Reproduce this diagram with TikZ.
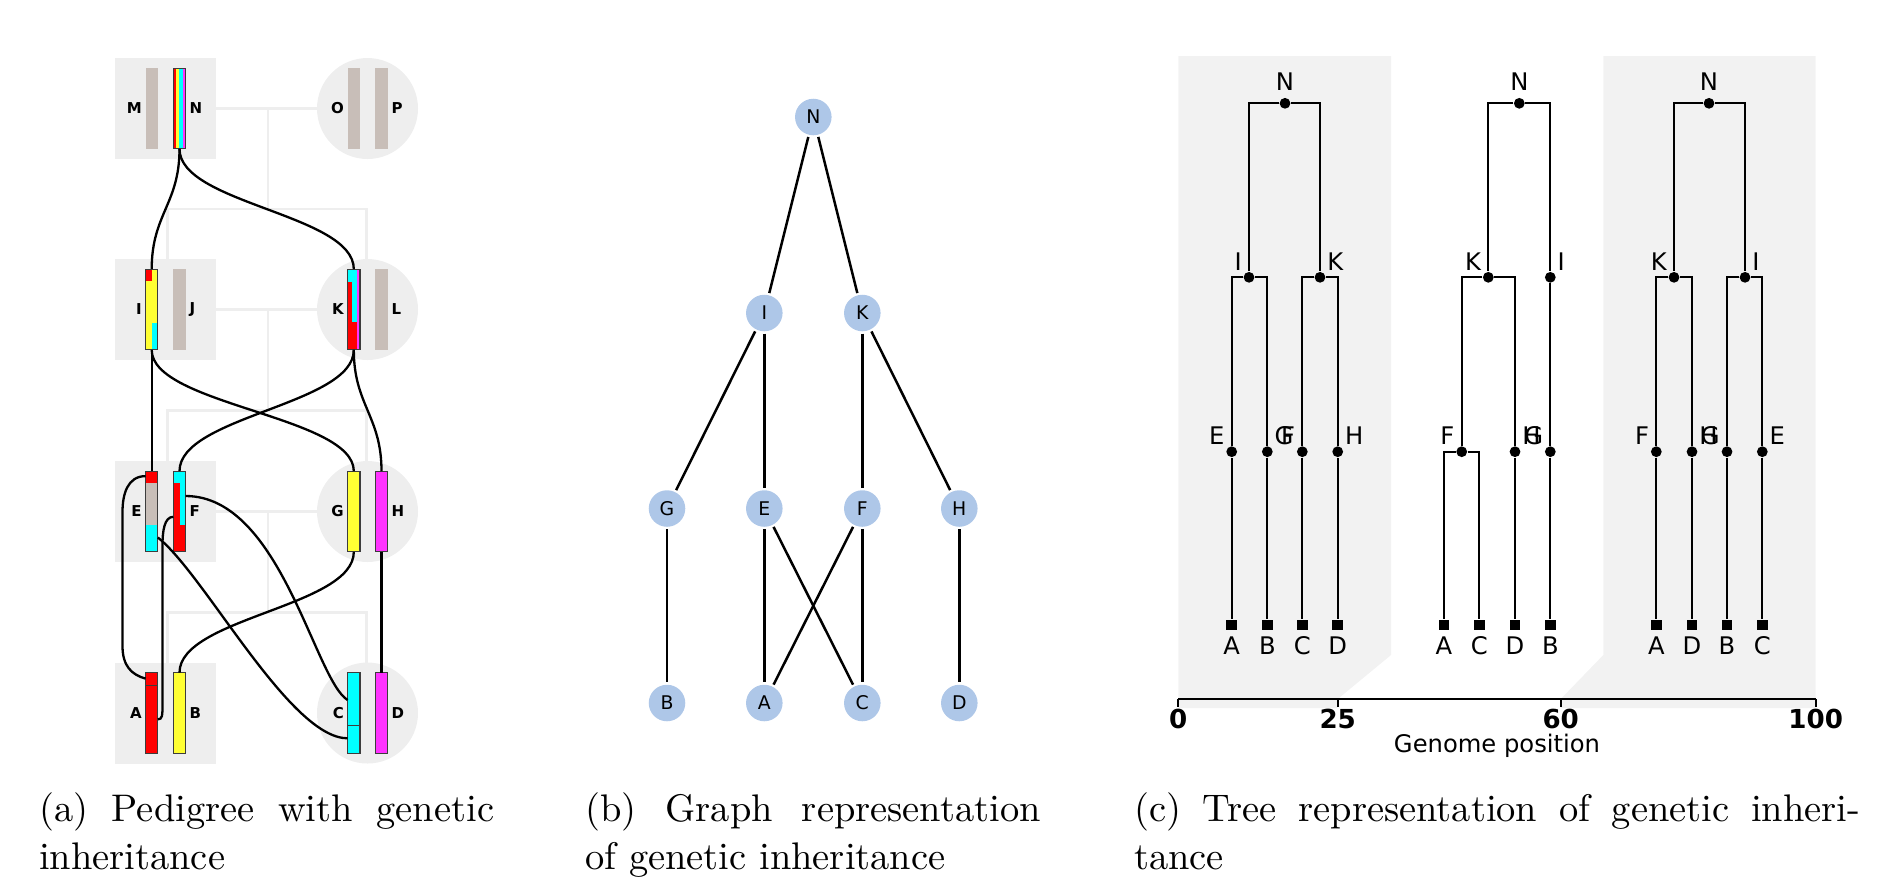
\documentclass[tikz,border=0pt]{standalone}
\usepackage{fontspec}
\newfontfamily\dejavu{DejaVu Sans}
\usetikzlibrary{calc,positioning}

\definecolor{famgrey}{RGB}{238,238,238}
\definecolor{chromgrey}{RGB}{200,190,184}
\definecolor{nodeblue}{RGB}{174,199,232}
\definecolor{treeshade}{RGB}{242,242,242}
\definecolor{segred}{RGB}{255,0,0}
\definecolor{segyellow}{RGB}{255,255,51}
\definecolor{segcyan}{RGB}{0,255,255}
\definecolor{segmagenta}{RGB}{255,51,255}
\definecolor{barline}{RGB}{60,60,60}

\def\famsquare(#1){\fill[famgrey] ($(#1)+(-50.5,-50.5)$) rectangle ($(#1)+(50.5,50.5)$);}
\def\chromoutline(#1){\draw[line width=0.3pt, color=barline] (#1.north west) rectangle (#1.south east);}

\tikzset{
	chrom/.style={rectangle, minimum width=3.2pt, minimum height=21pt, inner sep=0pt, outer sep=0pt, fill=chromgrey},
	chromseg/.style={chrom, draw=barline, line width=0.3pt},
	plab/.style={inner sep=0pt, font=\dejavu\bfseries\fontsize{3.9}{4}\selectfont},
	pedline/.style={line width=0.75pt, color=famgrey},
	inherit/.style={line width=0.6pt, color=black},
	gnode/.style={circle, fill=nodeblue, minimum size=9.5pt, inner sep=0pt, font=\dejavu\fontsize{4.9}{5}\selectfont},
	gedge/.style={line width=0.65pt, shorten <=0.4pt, shorten >=0.4pt},
	tdot/.style={circle, fill=black, minimum size=2.8pt, inner sep=0pt},
	tleaf/.style={rectangle, fill=black, minimum size=2.8pt, inner sep=0pt},
	tlab/.style={inner sep=0pt, font=\dejavu\fontsize{6.3}{7}\selectfont},
	troot/.style={tdot, label={[tlab, label distance=1.5pt]above:#1}},
	tint/.style 2 args={tdot, label={[tlab, label distance=0.8pt]#1:#2}},
	tsample/.style={tleaf, label={[tlab, label distance=1.2pt]below:#1}},
	tedge/.style={line width=0.5pt},
	ticklab/.style={inner sep=0pt, font=\dejavu\bfseries\fontsize{6.8}{7}\selectfont},
	captext/.style={anchor=base west, inner sep=0pt, font=\fontsize{10}{12.6}\selectfont},
}

\begin{document}
\begin{tikzpicture}[x=0.26pt, y=-0.26pt]
		%%%%% START %%%%%
		\useasboundingbox (0,0) rectangle (1892,894);
		
		% (a) pedigree
		\foreach \ya/\yb in {108.5/309.5, 309.5/511.5, 511.5/713}{
			\draw[pedline] (216,\ya) -- (317,\ya);
			\draw[pedline] (268,\ya) -- (268,{(\ya+\yb)/2});
			\draw[pedline] (167.7,\yb-50.5) -- (167.7,{(\ya+\yb)/2}) -- (366.7,{(\ya+\yb)/2}) -- (366.7,\yb-50.5);
		}
		\foreach \yc in {108.5, 309.5, 511.5, 713}{
			\famsquare(165.5,\yc)
			\fill[famgrey] (367.5,\yc) circle (13.13pt);
		}
		
		\node[chrom] (chrM) at (151.7,108.5) {};
		\node[chromseg] (chrN) at (179.5,108.5) {};
		\node[chrom] (chrO) at (353.8,108.5) {};
		\node[chrom] (chrP) at (381.5,108.5) {};
		\node[chromseg, fill=segyellow] (chrI) at (151.7,309.5) {};
		\node[chrom] (chrJ) at (179.5,309.5) {};
		\node[chromseg, fill=segcyan] (chrK) at (353.8,309.5) {};
		\node[chrom] (chrL) at (381.5,309.5) {};
		\node[chromseg] (chrE) at (151.7,511.5) {};
		\node[chromseg, fill=segcyan] (chrF) at (179.5,511.5) {};
		\node[chromseg, fill=segyellow] (chrG) at (353.8,511.5) {};
		\node[chromseg, fill=segmagenta] (chrH) at (381.5,511.5) {};
		\node[chromseg, fill=segred] (chrA) at (151.7,713) {};
		\node[chromseg, fill=segyellow] (chrB) at (179.5,713) {};
		\node[chromseg, fill=segcyan] (chrC) at (353.8,713) {};
		\node[chromseg, fill=segmagenta] (chrD) at (381.5,713) {};
		
		\foreach \c [count=\i from 0] in {segred, segyellow, segcyan, segmagenta}
			\fill[\c] ($(chrN.north west)+(3.075*\i,0)$) rectangle ($(chrN.south west)+(3.075*\i+3.075,0)$);
		\chromoutline(chrN)
		\fill[segred] (chrI.north west) rectangle ($(chrI.north)+(0,11.7)$);
		\fill[segcyan] ($(chrI.south)+(0,-27.3)$) rectangle (chrI.south east);
		\chromoutline(chrI)
		\fill[segred] ($(chrK.north west)+(0,12.7)$) rectangle ($(chrK.north west)+(4,52.7)$);
		\fill[segred] ($(chrK.north west)+(0,52.7)$) rectangle ($(chrK.south east)+(-3.3,0)$);
		\fill[segmagenta] ($(chrK.north east)+(-3.3,0)$) rectangle (chrK.south east);
		\chromoutline(chrK)
		\fill[segred] (chrE.north west) rectangle ($(chrE.north east)+(0,11.6)$);
		\fill[segcyan] ($(chrE.south west)+(0,-26.5)$) rectangle (chrE.south east);
		\chromoutline(chrE)
		\fill[segred] ($(chrF.north west)+(0,11.6)$) rectangle (chrF.south);
		\fill[segred] ($(chrF.south west)+(0,-26.5)$) rectangle (chrF.south east);
		\chromoutline(chrF)
		\draw[line width=0.3pt, color=barline] ($(chrA.north west)+(0,13)$) -- ($(chrA.north east)+(0,13)$);
		\draw[line width=0.3pt, color=barline] ($(chrC.north west)+(0,53)$) -- ($(chrC.north east)+(0,53)$);
		
		\foreach \l/\r in {M/N, I/J, E/F, A/B, O/P, K/L, G/H, C/D}{
			\node[plab, left=0.8pt of chr\l] (lab\l) {\l};
			\node[plab, right=0.8pt of chr\r] (lab\r) {\r};
		}
		
		\draw[inherit] (chrN.south) .. controls +(0,55) and +(0,-55) .. (chrI.north);
		\draw[inherit] (chrN.south) .. controls +(0,55) and +(0,-55) .. (chrK.north);
		\draw[inherit] (chrI.south) -- (chrE.north);
		\draw[inherit] (chrI.south) .. controls +(0,55) and +(0,-55) .. (chrG.north);
		\draw[inherit] (chrK.south) .. controls +(0,55) and +(0,-55) .. (chrF.north);
		\draw[inherit] (chrK.south) .. controls +(0,55) and +(0,-55) .. (chrH.north);
		\draw[inherit] (chrG.south) .. controls +(0,55) and +(0,-55) .. (chrB.north);
		\draw[inherit] (chrH.south) -- (chrD.north);
		\draw[inherit] ($(chrE.north west)+(0,5)$) .. controls +(-18,0) and +(0,-18) .. (122.5,512) -- (122.5,646) .. controls +(0,20) and +(-14,-4) .. ($(chrA.north west)+(0,6)$);
		\draw[inherit] ($(chrF.west)+(0,5.3)$) .. controls +(-9,0) and +(0,-14) .. (162.5,545) -- (162.5,704) .. controls +(0,12) and +(4.5,0) .. ($(chrA.east)+(0,6.3)$);
		\draw[inherit] ($(chrF.east)+(0,-15.5)$) .. controls +(95,0) and +(-33,-20) .. ($(chrC.west)+(0,-13)$);
		\draw[inherit] ($(chrE.east)+(0,26)$) .. controls +(47,37) and +(-58,0) .. ($(chrC.west)+(0,25.3)$);
		
		% (b) graph
		\node[gnode] (gN) at (813.3,117) {N};
		\node[gnode] (gI) at (764.3,313) {I};
		\node[gnode] (gK) at (862.3,313) {K};
		\node[gnode] (gG) at (667,508.5) {G};
		\node[gnode] (gE) at (764.3,508.5) {E};
		\node[gnode] (gF) at (862.3,508.5) {F};
		\node[gnode] (gH) at (959.3,508.5) {H};
		\node[gnode] (gB) at (667,703) {B};
		\node[gnode] (gA) at (764.3,703) {A};
		\node[gnode] (gC) at (862.3,703) {C};
		\node[gnode] (gD) at (959.3,703) {D};
		\foreach \a/\b in {gN/gI, gN/gK, gI/gG, gI/gE, gK/gF, gK/gH, gG/gB, gE/gA, gE/gC, gF/gA, gF/gC, gH/gD}
			\draw[gedge] (\a) -- (\b);
		
		% (c) trees
		\fill[treeshade] (1178.3,56) -- (1391,56) -- (1391,655) -- (1337.7,699) -- (1337.7,708) -- (1178.3,708) -- cycle;
		\fill[treeshade] (1603.3,56) -- (1815.7,56) -- (1815.7,708) -- (1560.7,708) -- (1560.7,699) -- (1603.3,655) -- cycle;
		
		\node[troot=N] (tN1) at (1285,103.3) {};
		\node[tint={above left}{I}] (tI1) at (1249,277.3) {};
		\node[tint={above right}{K}] (tK1) at (1320,277.3) {};
		\node[tint={above left}{E}] (tE1) at (1231.7,451.7) {};
		\node[tint={above right}{G}] (tG1) at (1267.3,451.7) {};
		\node[tint={above left}{F}] (tF1) at (1302.3,451.7) {};
		\node[tint={above right}{H}] (tH1) at (1337.7,451.7) {};
		\node[tsample=A] (tA1) at (1231.7,625) {};
		\node[tsample=B] (tB1) at (1267.3,625) {};
		\node[tsample=C] (tC1) at (1302.3,625) {};
		\node[tsample=D] (tD1) at (1337.7,625) {};
		\foreach \a/\b in {tN1/tI1, tN1/tK1, tI1/tE1, tI1/tG1, tK1/tF1, tK1/tH1}
			\draw[tedge] (\a) -| (\b);
		\foreach \a/\b in {tE1/tA1, tG1/tB1, tF1/tC1, tH1/tD1}
			\draw[tedge] (\a) -- (\b);
		
		\node[troot=N] (tN2) at (1519.3,103.3) {};
		\node[tint={above left}{K}] (tK2) at (1488.3,277.3) {};
		\node[tint={above right}{I}] (tI2) at (1550.3,277.3) {};
		\node[tint={above left}{F}] (tF2) at (1461.7,451.7) {};
		\node[tint={above right}{H}] (tH2) at (1515,451.7) {};
		\node[tint={above left}{G}] (tG2) at (1550.3,451.7) {};
		\node[tsample=A] (tA2) at (1444,625) {};
		\node[tsample=C] (tC2) at (1479.3,625) {};
		\node[tsample=D] (tD2) at (1515,625) {};
		\node[tsample=B] (tB2) at (1550.3,625) {};
		\foreach \a/\b in {tN2/tK2, tN2/tI2, tK2/tF2, tK2/tH2, tF2/tA2, tF2/tC2}
			\draw[tedge] (\a) -| (\b);
		\foreach \a/\b in {tI2/tG2, tH2/tD2, tG2/tB2}
			\draw[tedge] (\a) -- (\b);
		
		\node[troot=N] (tN3) at (1709,103.3) {};
		\node[tint={above left}{K}] (tK3) at (1674,277.3) {};
		\node[tint={above right}{I}] (tI3) at (1745,277.3) {};
		\node[tint={above left}{F}] (tF3) at (1656.3,451.7) {};
		\node[tint={above right}{H}] (tH3) at (1692,451.7) {};
		\node[tint={above left}{G}] (tG3) at (1727,451.7) {};
		\node[tint={above right}{E}] (tE3) at (1762.3,451.7) {};
		\node[tsample=A] (tA3) at (1656.3,625) {};
		\node[tsample=D] (tD3) at (1692,625) {};
		\node[tsample=B] (tB3) at (1727,625) {};
		\node[tsample=C] (tC3) at (1762.3,625) {};
		\foreach \a/\b in {tN3/tK3, tN3/tI3, tK3/tF3, tK3/tH3, tI3/tG3, tI3/tE3}
			\draw[tedge] (\a) -| (\b);
		\foreach \a/\b in {tF3/tA3, tH3/tD3, tG3/tB3, tE3/tC3}
			\draw[tedge] (\a) -- (\b);
		
		% genome axis
		\coordinate (ax0) at (1178.3,699);
		\coordinate (ax25) at (1337.7,699);
		\coordinate (ax60) at (1560.7,699);
		\coordinate (ax100) at (1815.7,699);
		\draw[tedge] (ax0) -- (ax100);
		\foreach \p in {0,25,60,100}
			\draw[tedge] (ax\p) -- ++(0,8) node[ticklab, below=0.3pt] (tick\p) {\p};
		\node[tlab, anchor=base] (axlabel) at (1497,752) {Genome position};
		
		% captions
		\node[captext] (capA) at (38.3,821) {\parbox[t]{118.3pt}{\tolerance=9999\hyphenpenalty=10000 (a) Pedigree with genetic\linebreak inheritance}};
		\node[captext] (capB) at (584.5,821) {\parbox[t]{118.4pt}{\tolerance=9999\hyphenpenalty=10000 (b) Graph representation\linebreak of genetic inheritance}};
		\node[captext] (capC) at (1133.4,821) {\parbox[t]{188.8pt}{\tolerance=9999\hyphenpenalty=10000 (c) Tree representation of genetic inheri-\linebreak tance}};
		
		%%%%% END %%%%%
	\end{tikzpicture}
\end{document}
